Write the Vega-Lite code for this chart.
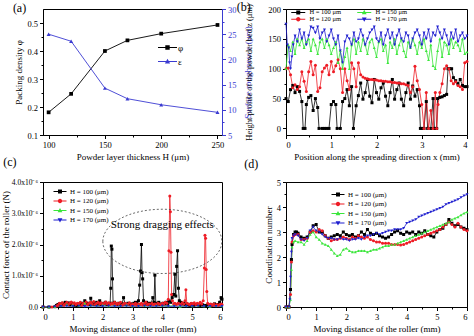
{
"$schema": "https://vega.github.io/schema/vega-lite/v6.json",
"padding": {"left": 0, "top": 0, "right": 0, "bottom": 0},
"background": "white",
"config": {
 "font": "Liberation Serif",
 "view": {"stroke": "#000", "strokeWidth": 1},
 "axis": {"labelFont": "Liberation Serif", "titleFont": "Liberation Serif", "labelFontSize": 8.5, "titleFontSize": 9, "titleFontWeight": "normal", "grid": false, "domainColor": "#000", "tickColor": "#000", "labelColor": "#000", "titleColor": "#000", "tickSize": 3, "labelPadding": 2, "titlePadding": 3},
 "legend": {"labelFont": "Liberation Serif", "labelFontSize": 7, "labelColor": "#000", "padding": 0, "symbolStrokeWidth": 0, "symbolOpacity": 1, "title": null},
 "title": {"font": "Liberation Serif", "fontSize": 12, "fontWeight": "normal", "anchor": "start", "frame": "bounds", "color": "#000"}
},
"datasets": {
 "a": [
  {"t":100,"phi":0.181,"eps":25.0},
  {"t":120,"phi":0.247,"eps":23.6},
  {"t":150,"phi":0.400,"eps":14.3},
  {"t":170,"phi":0.438,"eps":12.2},
  {"t":200,"phi":0.462,"eps":11.0},
  {"t":250,"phi":0.493,"eps":9.5}
 ],
 "b": [
  {"x":0,"y":50,"H":"100"},{"x":0.05,"y":45,"H":"100"},{"x":0.1,"y":65,"H":"100"},{"x":0.15,"y":72,"H":"100"},{"x":0.2,"y":60,"H":"100"},{"x":0.25,"y":70,"H":"100"},{"x":0.3,"y":62,"H":"100"},{"x":0.35,"y":45,"H":"100"},{"x":0.38,"y":0,"H":"100"},{"x":0.42,"y":0,"H":"100"},{"x":0.45,"y":40,"H":"100"},{"x":0.5,"y":52,"H":"100"},{"x":0.55,"y":55,"H":"100"},{"x":0.6,"y":30,"H":"100"},{"x":0.65,"y":50,"H":"100"},{"x":0.7,"y":35,"H":"100"},{"x":0.73,"y":0,"H":"100"},{"x":0.8,"y":0,"H":"100"},{"x":0.85,"y":0,"H":"100"},{"x":0.9,"y":0,"H":"100"},{"x":0.95,"y":0,"H":"100"},{"x":1.0,"y":40,"H":"100"},{"x":1.05,"y":45,"H":"100"},{"x":1.1,"y":40,"H":"100"},{"x":1.13,"y":0,"H":"100"},{"x":1.2,"y":0,"H":"100"},{"x":1.25,"y":45,"H":"100"},{"x":1.3,"y":50,"H":"100"},{"x":1.35,"y":65,"H":"100"},{"x":1.4,"y":38,"H":"100"},{"x":1.45,"y":70,"H":"100"},{"x":1.49,"y":0,"H":"100"},{"x":1.55,"y":38,"H":"100"},{"x":1.6,"y":55,"H":"100"},{"x":1.65,"y":76,"H":"100"},{"x":1.7,"y":49,"H":"100"},{"x":1.75,"y":60,"H":"100"},{"x":1.8,"y":82,"H":"100"},{"x":1.85,"y":54,"H":"100"},{"x":1.9,"y":43,"H":"100"},{"x":1.95,"y":82,"H":"100"},{"x":2.0,"y":60,"H":"100"},{"x":2.05,"y":49,"H":"100"},{"x":2.1,"y":68,"H":"100"},{"x":2.15,"y":76,"H":"100"},{"x":2.2,"y":54,"H":"100"},{"x":2.25,"y":38,"H":"100"},{"x":2.3,"y":60,"H":"100"},{"x":2.35,"y":82,"H":"100"},{"x":2.4,"y":49,"H":"100"},{"x":2.45,"y":65,"H":"100"},{"x":2.5,"y":76,"H":"100"},{"x":2.55,"y":49,"H":"100"},{"x":2.6,"y":38,"H":"100"},{"x":2.65,"y":60,"H":"100"},{"x":2.7,"y":76,"H":"100"},{"x":2.75,"y":49,"H":"100"},{"x":2.8,"y":71,"H":"100"},{"x":2.85,"y":54,"H":"100"},{"x":2.9,"y":65,"H":"100"},{"x":2.95,"y":38,"H":"100"},{"x":2.97,"y":0,"H":"100"},{"x":3.0,"y":0,"H":"100"},{"x":3.05,"y":0,"H":"100"},{"x":3.1,"y":45,"H":"100"},{"x":3.13,"y":0,"H":"100"},{"x":3.2,"y":0,"H":"100"},{"x":3.25,"y":50,"H":"100"},{"x":3.28,"y":0,"H":"100"},{"x":3.33,"y":0,"H":"100"},{"x":3.35,"y":50,"H":"100"},{"x":3.4,"y":52,"H":"100"},{"x":3.45,"y":53,"H":"100"},{"x":3.5,"y":55,"H":"100"},{"x":3.55,"y":57,"H":"100"},{"x":3.58,"y":100,"H":"100"},{"x":3.62,"y":100,"H":"100"},{"x":3.66,"y":100,"H":"100"},{"x":3.7,"y":85,"H":"100"},{"x":3.75,"y":80,"H":"100"},{"x":3.8,"y":75,"H":"100"},{"x":3.85,"y":82,"H":"100"},{"x":3.9,"y":72,"H":"100"},{"x":3.95,"y":70,"H":"100"},{"x":4.0,"y":70,"H":"100"},
  {"x":0,"y":100,"H":"120"},{"x":0.05,"y":101,"H":"120"},{"x":0.1,"y":90,"H":"120"},{"x":0.15,"y":68,"H":"120"},{"x":0.2,"y":73,"H":"120"},{"x":0.25,"y":65,"H":"120"},{"x":0.3,"y":70,"H":"120"},{"x":0.35,"y":95,"H":"120"},{"x":0.4,"y":79,"H":"120"},{"x":0.45,"y":62,"H":"120"},{"x":0.5,"y":95,"H":"120"},{"x":0.55,"y":112,"H":"120"},{"x":0.6,"y":90,"H":"120"},{"x":0.65,"y":106,"H":"120"},{"x":0.7,"y":62,"H":"120"},{"x":0.75,"y":68,"H":"120"},{"x":0.8,"y":95,"H":"120"},{"x":0.85,"y":101,"H":"120"},{"x":0.9,"y":106,"H":"120"},{"x":0.95,"y":90,"H":"120"},{"x":1.0,"y":112,"H":"120"},{"x":1.05,"y":95,"H":"120"},{"x":1.1,"y":105,"H":"120"},{"x":1.15,"y":115,"H":"120"},{"x":1.2,"y":100,"H":"120"},{"x":1.25,"y":60,"H":"120"},{"x":1.3,"y":100,"H":"120"},{"x":1.35,"y":80,"H":"120"},{"x":1.4,"y":65,"H":"120"},{"x":1.45,"y":110,"H":"120"},{"x":1.5,"y":100,"H":"120"},{"x":1.55,"y":70,"H":"120"},{"x":1.6,"y":110,"H":"120"},{"x":1.65,"y":90,"H":"120"},{"x":1.7,"y":86,"H":"120"},{"x":1.75,"y":84,"H":"120"},{"x":1.8,"y":83,"H":"120"},{"x":1.85,"y":82,"H":"120"},{"x":1.9,"y":82,"H":"120"},{"x":1.95,"y":81,"H":"120"},{"x":2.0,"y":81,"H":"120"},{"x":2.05,"y":80,"H":"120"},{"x":2.1,"y":80,"H":"120"},{"x":2.15,"y":79,"H":"120"},{"x":2.2,"y":79,"H":"120"},{"x":2.25,"y":78,"H":"120"},{"x":2.3,"y":78,"H":"120"},{"x":2.35,"y":77,"H":"120"},{"x":2.4,"y":77,"H":"120"},{"x":2.45,"y":76,"H":"120"},{"x":2.5,"y":76,"H":"120"},{"x":2.55,"y":75,"H":"120"},{"x":2.6,"y":75,"H":"120"},{"x":2.65,"y":73,"H":"120"},{"x":2.7,"y":72,"H":"120"},{"x":2.75,"y":60,"H":"120"},{"x":2.8,"y":70,"H":"120"},{"x":2.85,"y":104,"H":"120"},{"x":2.9,"y":80,"H":"120"},{"x":2.95,"y":65,"H":"120"},{"x":3.0,"y":40,"H":"120"},{"x":3.05,"y":0,"H":"120"},{"x":3.1,"y":60,"H":"120"},{"x":3.15,"y":0,"H":"120"},{"x":3.2,"y":30,"H":"120"},{"x":3.25,"y":0,"H":"120"},{"x":3.3,"y":60,"H":"120"},{"x":3.33,"y":0,"H":"120"},{"x":3.36,"y":40,"H":"120"},{"x":3.4,"y":60,"H":"120"},{"x":3.45,"y":75,"H":"120"},{"x":3.5,"y":100,"H":"120"},{"x":3.55,"y":105,"H":"120"},{"x":3.6,"y":100,"H":"120"},{"x":3.65,"y":80,"H":"120"},{"x":3.7,"y":75,"H":"120"},{"x":3.75,"y":78,"H":"120"},{"x":3.8,"y":72,"H":"120"},{"x":3.85,"y":70,"H":"120"},{"x":3.9,"y":65,"H":"120"},{"x":3.95,"y":110,"H":"120"},{"x":4.0,"y":112,"H":"120"},
  {"x":0,"y":100,"H":"150"},{"x":0.05,"y":140,"H":"150"},{"x":0.1,"y":130,"H":"150"},{"x":0.15,"y":145,"H":"150"},{"x":0.2,"y":125,"H":"150"},{"x":0.25,"y":150,"H":"150"},{"x":0.3,"y":140,"H":"150"},{"x":0.35,"y":150,"H":"150"},{"x":0.4,"y":135,"H":"150"},{"x":0.45,"y":145,"H":"150"},{"x":0.5,"y":150,"H":"150"},{"x":0.55,"y":130,"H":"150"},{"x":0.6,"y":150,"H":"150"},{"x":0.65,"y":140,"H":"150"},{"x":0.7,"y":125,"H":"150"},{"x":0.75,"y":145,"H":"150"},{"x":0.8,"y":150,"H":"150"},{"x":0.85,"y":135,"H":"150"},{"x":0.9,"y":150,"H":"150"},{"x":0.95,"y":140,"H":"150"},{"x":1.0,"y":125,"H":"150"},{"x":1.05,"y":135,"H":"150"},{"x":1.1,"y":145,"H":"150"},{"x":1.15,"y":110,"H":"150"},{"x":1.2,"y":130,"H":"150"},{"x":1.25,"y":100,"H":"150"},{"x":1.3,"y":120,"H":"150"},{"x":1.35,"y":135,"H":"150"},{"x":1.4,"y":100,"H":"150"},{"x":1.45,"y":140,"H":"150"},{"x":1.5,"y":150,"H":"150"},{"x":1.55,"y":125,"H":"150"},{"x":1.6,"y":145,"H":"150"},{"x":1.65,"y":130,"H":"150"},{"x":1.7,"y":150,"H":"150"},{"x":1.75,"y":140,"H":"150"},{"x":1.8,"y":125,"H":"150"},{"x":1.85,"y":145,"H":"150"},{"x":1.9,"y":150,"H":"150"},{"x":1.95,"y":135,"H":"150"},{"x":2.0,"y":120,"H":"150"},{"x":2.05,"y":145,"H":"150"},{"x":2.1,"y":150,"H":"150"},{"x":2.15,"y":130,"H":"150"},{"x":2.2,"y":140,"H":"150"},{"x":2.25,"y":110,"H":"150"},{"x":2.3,"y":145,"H":"150"},{"x":2.35,"y":135,"H":"150"},{"x":2.4,"y":150,"H":"150"},{"x":2.45,"y":125,"H":"150"},{"x":2.5,"y":140,"H":"150"},{"x":2.55,"y":150,"H":"150"},{"x":2.6,"y":130,"H":"150"},{"x":2.65,"y":120,"H":"150"},{"x":2.7,"y":145,"H":"150"},{"x":2.75,"y":135,"H":"150"},{"x":2.8,"y":150,"H":"150"},{"x":2.85,"y":140,"H":"150"},{"x":2.9,"y":125,"H":"150"},{"x":2.95,"y":145,"H":"150"},{"x":3.0,"y":135,"H":"150"},{"x":3.05,"y":150,"H":"150"},{"x":3.1,"y":130,"H":"150"},{"x":3.15,"y":115,"H":"150"},{"x":3.2,"y":140,"H":"150"},{"x":3.25,"y":105,"H":"150"},{"x":3.3,"y":100,"H":"150"},{"x":3.35,"y":130,"H":"150"},{"x":3.4,"y":150,"H":"150"},{"x":3.45,"y":120,"H":"150"},{"x":3.5,"y":145,"H":"150"},{"x":3.55,"y":140,"H":"150"},{"x":3.6,"y":125,"H":"150"},{"x":3.65,"y":150,"H":"150"},{"x":3.7,"y":135,"H":"150"},{"x":3.75,"y":145,"H":"150"},{"x":3.8,"y":140,"H":"150"},{"x":3.85,"y":130,"H":"150"},{"x":3.9,"y":150,"H":"150"},{"x":3.95,"y":125,"H":"150"},{"x":4.0,"y":128,"H":"150"},
  {"x":0,"y":175,"H":"170"},{"x":0.03,"y":140,"H":"170"},{"x":0.06,"y":135,"H":"170"},{"x":0.08,"y":110,"H":"170"},{"x":0.1,"y":100,"H":"170"},{"x":0.13,"y":120,"H":"170"},{"x":0.16,"y":140,"H":"170"},{"x":0.2,"y":155,"H":"170"},{"x":0.25,"y":145,"H":"170"},{"x":0.3,"y":165,"H":"170"},{"x":0.35,"y":150,"H":"170"},{"x":0.4,"y":160,"H":"170"},{"x":0.45,"y":140,"H":"170"},{"x":0.5,"y":155,"H":"170"},{"x":0.55,"y":170,"H":"170"},{"x":0.6,"y":168,"H":"170"},{"x":0.65,"y":160,"H":"170"},{"x":0.7,"y":170,"H":"170"},{"x":0.75,"y":150,"H":"170"},{"x":0.8,"y":160,"H":"170"},{"x":0.85,"y":165,"H":"170"},{"x":0.9,"y":145,"H":"170"},{"x":0.95,"y":155,"H":"170"},{"x":1.0,"y":165,"H":"170"},{"x":1.05,"y":150,"H":"170"},{"x":1.1,"y":140,"H":"170"},{"x":1.15,"y":155,"H":"170"},{"x":1.2,"y":130,"H":"170"},{"x":1.25,"y":110,"H":"170"},{"x":1.3,"y":145,"H":"170"},{"x":1.35,"y":155,"H":"170"},{"x":1.4,"y":150,"H":"170"},{"x":1.45,"y":140,"H":"170"},{"x":1.5,"y":160,"H":"170"},{"x":1.55,"y":145,"H":"170"},{"x":1.6,"y":150,"H":"170"},{"x":1.65,"y":165,"H":"170"},{"x":1.7,"y":155,"H":"170"},{"x":1.75,"y":140,"H":"170"},{"x":1.8,"y":150,"H":"170"},{"x":1.85,"y":160,"H":"170"},{"x":1.9,"y":165,"H":"170"},{"x":1.95,"y":170,"H":"170"},{"x":2.0,"y":150,"H":"170"},{"x":2.05,"y":145,"H":"170"},{"x":2.1,"y":160,"H":"170"},{"x":2.15,"y":140,"H":"170"},{"x":2.2,"y":155,"H":"170"},{"x":2.25,"y":165,"H":"170"},{"x":2.3,"y":150,"H":"170"},{"x":2.35,"y":160,"H":"170"},{"x":2.4,"y":140,"H":"170"},{"x":2.45,"y":155,"H":"170"},{"x":2.5,"y":165,"H":"170"},{"x":2.55,"y":150,"H":"170"},{"x":2.6,"y":145,"H":"170"},{"x":2.65,"y":160,"H":"170"},{"x":2.7,"y":155,"H":"170"},{"x":2.75,"y":135,"H":"170"},{"x":2.8,"y":150,"H":"170"},{"x":2.85,"y":160,"H":"170"},{"x":2.9,"y":165,"H":"170"},{"x":2.95,"y":155,"H":"170"},{"x":3.0,"y":140,"H":"170"},{"x":3.05,"y":160,"H":"170"},{"x":3.1,"y":150,"H":"170"},{"x":3.15,"y":165,"H":"170"},{"x":3.2,"y":145,"H":"170"},{"x":3.25,"y":160,"H":"170"},{"x":3.3,"y":155,"H":"170"},{"x":3.35,"y":170,"H":"170"},{"x":3.4,"y":160,"H":"170"},{"x":3.45,"y":150,"H":"170"},{"x":3.5,"y":165,"H":"170"},{"x":3.55,"y":155,"H":"170"},{"x":3.6,"y":140,"H":"170"},{"x":3.65,"y":160,"H":"170"},{"x":3.7,"y":150,"H":"170"},{"x":3.75,"y":165,"H":"170"},{"x":3.8,"y":145,"H":"170"},{"x":3.85,"y":155,"H":"170"},{"x":3.9,"y":160,"H":"170"},{"x":3.95,"y":150,"H":"170"},{"x":4.0,"y":155,"H":"170"}
 ],
 "c": [
  {"x":0,"y":0,"H":"100"},{"x":0.2,"y":0,"H":"100"},{"x":0.4,"y":0.01e-6,"H":"100"},{"x":0.45,"y":0.05e-6,"H":"100"},{"x":0.5,"y":0.08e-6,"H":"100"},{"x":0.55,"y":0.1e-6,"H":"100"},{"x":0.6,"y":0.06e-6,"H":"100"},{"x":0.65,"y":0.12e-6,"H":"100"},{"x":0.7,"y":0.08e-6,"H":"100"},{"x":0.75,"y":0.15e-6,"H":"100"},{"x":0.8,"y":0.1e-6,"H":"100"},{"x":0.85,"y":0.13e-6,"H":"100"},{"x":0.9,"y":0.07e-6,"H":"100"},{"x":0.95,"y":0.12e-6,"H":"100"},{"x":1.0,"y":0.1e-6,"H":"100"},{"x":1.05,"y":0.06e-6,"H":"100"},{"x":1.1,"y":0.08e-6,"H":"100"},{"x":1.15,"y":0.05e-6,"H":"100"},{"x":1.2,"y":0.1e-6,"H":"100"},{"x":1.25,"y":0.07e-6,"H":"100"},{"x":1.3,"y":0.12e-6,"H":"100"},{"x":1.35,"y":0.08e-6,"H":"100"},{"x":1.4,"y":0.2e-6,"H":"100"},{"x":1.45,"y":0.1e-6,"H":"100"},{"x":1.5,"y":0.12e-6,"H":"100"},{"x":1.55,"y":0.08e-6,"H":"100"},{"x":1.6,"y":0.28e-6,"H":"100"},{"x":1.65,"y":0.1e-6,"H":"100"},{"x":1.7,"y":0.12e-6,"H":"100"},{"x":1.75,"y":0.08e-6,"H":"100"},{"x":1.8,"y":0.15e-6,"H":"100"},{"x":1.85,"y":0.1e-6,"H":"100"},{"x":1.9,"y":0.2e-6,"H":"100"},{"x":1.95,"y":0.08e-6,"H":"100"},{"x":2.0,"y":0.1e-6,"H":"100"},{"x":2.05,"y":0.12e-6,"H":"100"},{"x":2.1,"y":0.15e-6,"H":"100"},{"x":2.15,"y":0.08e-6,"H":"100"},{"x":2.2,"y":0.1e-6,"H":"100"},{"x":2.25,"y":0.12e-6,"H":"100"},{"x":2.27,"y":0.6e-6,"H":"100"},{"x":2.29,"y":1.95e-6,"H":"100"},{"x":2.31,"y":1.85e-6,"H":"100"},{"x":2.33,"y":0.9e-6,"H":"100"},{"x":2.35,"y":0.12e-6,"H":"100"},{"x":2.4,"y":0.15e-6,"H":"100"},{"x":2.45,"y":0.08e-6,"H":"100"},{"x":2.5,"y":0.1e-6,"H":"100"},{"x":2.55,"y":0.12e-6,"H":"100"},{"x":2.6,"y":0.08e-6,"H":"100"},{"x":2.65,"y":0.1e-6,"H":"100"},{"x":2.7,"y":0.3e-6,"H":"100"},{"x":2.75,"y":0.1e-6,"H":"100"},{"x":2.8,"y":0.08e-6,"H":"100"},{"x":2.85,"y":0.12e-6,"H":"100"},{"x":2.9,"y":0.1e-6,"H":"100"},{"x":2.95,"y":0.08e-6,"H":"100"},{"x":3.0,"y":0.1e-6,"H":"100"},{"x":3.05,"y":0.12e-6,"H":"100"},{"x":3.1,"y":0.15e-6,"H":"100"},{"x":3.15,"y":0.1e-6,"H":"100"},{"x":3.2,"y":0.2e-6,"H":"100"},{"x":3.24,"y":0.7e-6,"H":"100"},{"x":3.27,"y":1.15e-6,"H":"100"},{"x":3.3,"y":2.0e-6,"H":"100"},{"x":3.32,"y":1.1e-6,"H":"100"},{"x":3.34,"y":0.9e-6,"H":"100"},{"x":3.37,"y":0.2e-6,"H":"100"},{"x":3.42,"y":0.1e-6,"H":"100"},{"x":3.47,"y":0.15e-6,"H":"100"},{"x":3.52,"y":0.08e-6,"H":"100"},{"x":3.57,"y":0.12e-6,"H":"100"},{"x":3.62,"y":0.1e-6,"H":"100"},{"x":3.68,"y":0.3e-6,"H":"100"},{"x":3.72,"y":0.15e-6,"H":"100"},{"x":3.75,"y":1.02e-6,"H":"100"},{"x":3.78,"y":0.12e-6,"H":"100"},{"x":3.83,"y":0.1e-6,"H":"100"},{"x":3.88,"y":0.15e-6,"H":"100"},{"x":3.93,"y":0.08e-6,"H":"100"},{"x":3.98,"y":0.1e-6,"H":"100"},{"x":4.03,"y":0.12e-6,"H":"100"},{"x":4.08,"y":0.1e-6,"H":"100"},{"x":4.13,"y":0.15e-6,"H":"100"},{"x":4.18,"y":0.1e-6,"H":"100"},{"x":4.23,"y":0.2e-6,"H":"100"},{"x":4.28,"y":0.15e-6,"H":"100"},{"x":4.33,"y":0.3e-6,"H":"100"},{"x":4.38,"y":0.4e-6,"H":"100"},{"x":4.42,"y":1.05e-6,"H":"100"},{"x":4.45,"y":0.35e-6,"H":"100"},{"x":4.48,"y":1.3e-6,"H":"100"},{"x":4.51,"y":1.8e-6,"H":"100"},{"x":4.54,"y":0.6e-6,"H":"100"},{"x":4.57,"y":0.2e-6,"H":"100"},{"x":4.62,"y":0.15e-6,"H":"100"},{"x":4.67,"y":0.1e-6,"H":"100"},{"x":4.72,"y":0.12e-6,"H":"100"},{"x":4.77,"y":0.08e-6,"H":"100"},{"x":4.82,"y":0.1e-6,"H":"100"},{"x":4.87,"y":0.08e-6,"H":"100"},{"x":4.92,"y":0.06e-6,"H":"100"},{"x":4.97,"y":0.1e-6,"H":"100"},{"x":5.05,"y":0.06e-6,"H":"100"},{"x":5.15,"y":0.08e-6,"H":"100"},{"x":5.25,"y":0.05e-6,"H":"100"},{"x":5.35,"y":0.07e-6,"H":"100"},{"x":5.45,"y":0.05e-6,"H":"100"},{"x":5.55,"y":0.08e-6,"H":"100"},{"x":5.65,"y":0.06e-6,"H":"100"},{"x":5.75,"y":0.1e-6,"H":"100"},{"x":5.85,"y":0.08e-6,"H":"100"},{"x":5.92,"y":0.15e-6,"H":"100"},{"x":5.97,"y":0.3e-6,"H":"100"},{"x":6.0,"y":0.25e-6,"H":"100"},
  {"x":0,"y":0,"H":"120"},{"x":0.3,"y":0,"H":"120"},{"x":0.45,"y":0.03e-6,"H":"120"},{"x":0.5,"y":0.06e-6,"H":"120"},{"x":0.55,"y":0.12e-6,"H":"120"},{"x":0.6,"y":0.08e-6,"H":"120"},{"x":0.65,"y":0.14e-6,"H":"120"},{"x":0.7,"y":0.06e-6,"H":"120"},{"x":0.75,"y":0.1e-6,"H":"120"},{"x":0.8,"y":0.15e-6,"H":"120"},{"x":0.85,"y":0.08e-6,"H":"120"},{"x":0.9,"y":0.12e-6,"H":"120"},{"x":0.95,"y":0.16e-6,"H":"120"},{"x":1.0,"y":0.1e-6,"H":"120"},{"x":1.05,"y":0.14e-6,"H":"120"},{"x":1.1,"y":0.08e-6,"H":"120"},{"x":1.15,"y":0.12e-6,"H":"120"},{"x":1.2,"y":0.1e-6,"H":"120"},{"x":1.25,"y":0.15e-6,"H":"120"},{"x":1.3,"y":0.06e-6,"H":"120"},{"x":1.35,"y":0.12e-6,"H":"120"},{"x":1.4,"y":0.1e-6,"H":"120"},{"x":1.45,"y":0.16e-6,"H":"120"},{"x":1.5,"y":0.08e-6,"H":"120"},{"x":1.55,"y":0.12e-6,"H":"120"},{"x":1.6,"y":0.15e-6,"H":"120"},{"x":1.65,"y":0.1e-6,"H":"120"},{"x":1.7,"y":0.18e-6,"H":"120"},{"x":1.75,"y":0.08e-6,"H":"120"},{"x":1.8,"y":0.12e-6,"H":"120"},{"x":1.85,"y":0.15e-6,"H":"120"},{"x":1.9,"y":0.1e-6,"H":"120"},{"x":1.95,"y":0.14e-6,"H":"120"},{"x":2.0,"y":0.08e-6,"H":"120"},{"x":2.05,"y":0.12e-6,"H":"120"},{"x":2.1,"y":0.16e-6,"H":"120"},{"x":2.15,"y":0.1e-6,"H":"120"},{"x":2.2,"y":0.14e-6,"H":"120"},{"x":2.25,"y":0.08e-6,"H":"120"},{"x":2.3,"y":0.12e-6,"H":"120"},{"x":2.35,"y":0.1e-6,"H":"120"},{"x":2.4,"y":0.15e-6,"H":"120"},{"x":2.45,"y":0.08e-6,"H":"120"},{"x":2.5,"y":0.12e-6,"H":"120"},{"x":2.55,"y":0.1e-6,"H":"120"},{"x":2.6,"y":0.15e-6,"H":"120"},{"x":2.65,"y":0.06e-6,"H":"120"},{"x":2.7,"y":0.1e-6,"H":"120"},{"x":2.75,"y":0.12e-6,"H":"120"},{"x":2.8,"y":0.08e-6,"H":"120"},{"x":2.85,"y":0.1e-6,"H":"120"},{"x":2.9,"y":0.14e-6,"H":"120"},{"x":2.95,"y":0.06e-6,"H":"120"},{"x":3.0,"y":0.1e-6,"H":"120"},{"x":3.05,"y":0.08e-6,"H":"120"},{"x":3.1,"y":0.12e-6,"H":"120"},{"x":3.15,"y":0.06e-6,"H":"120"},{"x":3.2,"y":0.1e-6,"H":"120"},{"x":3.25,"y":0.08e-6,"H":"120"},{"x":3.3,"y":0.12e-6,"H":"120"},{"x":3.35,"y":0.06e-6,"H":"120"},{"x":3.4,"y":0.1e-6,"H":"120"},{"x":3.45,"y":0.15e-6,"H":"120"},{"x":3.5,"y":0.08e-6,"H":"120"},{"x":3.55,"y":0.1e-6,"H":"120"},{"x":3.6,"y":0.05e-6,"H":"120"},{"x":3.65,"y":0.12e-6,"H":"120"},{"x":3.7,"y":0.08e-6,"H":"120"},{"x":3.75,"y":0.1e-6,"H":"120"},{"x":3.8,"y":0.06e-6,"H":"120"},{"x":3.85,"y":0.12e-6,"H":"120"},{"x":3.9,"y":0.1e-6,"H":"120"},{"x":3.95,"y":0.08e-6,"H":"120"},{"x":4.0,"y":0.12e-6,"H":"120"},{"x":4.05,"y":0.1e-6,"H":"120"},{"x":4.1,"y":0.15e-6,"H":"120"},{"x":4.15,"y":0.12e-6,"H":"120"},{"x":4.2,"y":0.25e-6,"H":"120"},{"x":4.22,"y":1.8e-6,"H":"120"},{"x":4.25,"y":3.55e-6,"H":"120"},{"x":4.27,"y":3.05e-6,"H":"120"},{"x":4.29,"y":1.75e-6,"H":"120"},{"x":4.31,"y":0.4e-6,"H":"120"},{"x":4.34,"y":0.2e-6,"H":"120"},{"x":4.38,"y":0.1e-6,"H":"120"},{"x":4.42,"y":0.12e-6,"H":"120"},{"x":4.47,"y":0.08e-6,"H":"120"},{"x":4.52,"y":0.12e-6,"H":"120"},{"x":4.57,"y":0.1e-6,"H":"120"},{"x":4.62,"y":0.08e-6,"H":"120"},{"x":4.67,"y":0.14e-6,"H":"120"},{"x":4.72,"y":0.1e-6,"H":"120"},{"x":4.76,"y":0.2e-6,"H":"120"},{"x":4.79,"y":0.55e-6,"H":"120"},{"x":4.82,"y":0.12e-6,"H":"120"},{"x":4.87,"y":0.1e-6,"H":"120"},{"x":4.92,"y":0.08e-6,"H":"120"},{"x":4.97,"y":0.12e-6,"H":"120"},{"x":5.02,"y":0.1e-6,"H":"120"},{"x":5.07,"y":0.14e-6,"H":"120"},{"x":5.12,"y":0.08e-6,"H":"120"},{"x":5.17,"y":0.12e-6,"H":"120"},{"x":5.22,"y":0.1e-6,"H":"120"},{"x":5.27,"y":0.15e-6,"H":"120"},{"x":5.32,"y":0.1e-6,"H":"120"},{"x":5.37,"y":0.2e-6,"H":"120"},{"x":5.41,"y":1.25e-6,"H":"120"},{"x":5.43,"y":2.3e-6,"H":"120"},{"x":5.45,"y":2.2e-6,"H":"120"},{"x":5.47,"y":1.2e-6,"H":"120"},{"x":5.49,"y":0.5e-6,"H":"120"},{"x":5.52,"y":0.12e-6,"H":"120"},{"x":5.57,"y":0.08e-6,"H":"120"},{"x":5.62,"y":0.1e-6,"H":"120"},{"x":5.67,"y":0.06e-6,"H":"120"},{"x":5.72,"y":0.1e-6,"H":"120"},{"x":5.77,"y":0.05e-6,"H":"120"},{"x":5.82,"y":0.08e-6,"H":"120"},{"x":5.87,"y":0.06e-6,"H":"120"},{"x":5.92,"y":0.08e-6,"H":"120"},{"x":5.97,"y":0.1e-6,"H":"120"},{"x":6.0,"y":0.08e-6,"H":"120"},
  {"x":0,"y":0,"H":"150"},{"x":0.2,"y":0,"H":"150"},{"x":0.4,"y":0.01e-6,"H":"150"},{"x":0.6,"y":0.05e-6,"H":"150"},{"x":0.8,"y":0.08e-6,"H":"150"},{"x":1.0,"y":0.06e-6,"H":"150"},{"x":1.2,"y":0.05e-6,"H":"150"},{"x":1.4,"y":0.12e-6,"H":"150"},{"x":1.6,"y":0.05e-6,"H":"150"},{"x":1.8,"y":0.04e-6,"H":"150"},{"x":2.0,"y":0.06e-6,"H":"150"},{"x":2.2,"y":0.03e-6,"H":"150"},{"x":2.4,"y":0.05e-6,"H":"150"},{"x":2.6,"y":0.04e-6,"H":"150"},{"x":2.8,"y":0.06e-6,"H":"150"},{"x":3.0,"y":0.03e-6,"H":"150"},{"x":3.2,"y":0.05e-6,"H":"150"},{"x":3.4,"y":0.04e-6,"H":"150"},{"x":3.6,"y":0.03e-6,"H":"150"},{"x":3.8,"y":0.05e-6,"H":"150"},{"x":4.0,"y":0.04e-6,"H":"150"},{"x":4.2,"y":0.03e-6,"H":"150"},{"x":4.4,"y":0.05e-6,"H":"150"},{"x":4.6,"y":0.02e-6,"H":"150"},{"x":4.8,"y":0.04e-6,"H":"150"},{"x":5.0,"y":0.03e-6,"H":"150"},{"x":5.2,"y":0.05e-6,"H":"150"},{"x":5.4,"y":0.03e-6,"H":"150"},{"x":5.6,"y":0.02e-6,"H":"150"},{"x":5.8,"y":0.04e-6,"H":"150"},{"x":6.0,"y":0.03e-6,"H":"150"},
  {"x":0,"y":0,"H":"170"},{"x":0.2,"y":0,"H":"170"},{"x":0.4,"y":0.01e-6,"H":"170"},{"x":0.6,"y":0.02e-6,"H":"170"},{"x":0.8,"y":0.03e-6,"H":"170"},{"x":1.0,"y":0.02e-6,"H":"170"},{"x":1.2,"y":0.03e-6,"H":"170"},{"x":1.4,"y":0.02e-6,"H":"170"},{"x":1.6,"y":0.03e-6,"H":"170"},{"x":1.8,"y":0.02e-6,"H":"170"},{"x":2.0,"y":0.02e-6,"H":"170"},{"x":2.2,"y":0.03e-6,"H":"170"},{"x":2.4,"y":0.02e-6,"H":"170"},{"x":2.6,"y":0.02e-6,"H":"170"},{"x":2.8,"y":0.03e-6,"H":"170"},{"x":3.0,"y":0.02e-6,"H":"170"},{"x":3.2,"y":0.02e-6,"H":"170"},{"x":3.4,"y":0.03e-6,"H":"170"},{"x":3.6,"y":0.02e-6,"H":"170"},{"x":3.8,"y":0.02e-6,"H":"170"},{"x":4.0,"y":0.03e-6,"H":"170"},{"x":4.2,"y":0.02e-6,"H":"170"},{"x":4.4,"y":0.02e-6,"H":"170"},{"x":4.6,"y":0.03e-6,"H":"170"},{"x":4.8,"y":0.02e-6,"H":"170"},{"x":5.0,"y":0.02e-6,"H":"170"},{"x":5.2,"y":0.03e-6,"H":"170"},{"x":5.4,"y":0.02e-6,"H":"170"},{"x":5.6,"y":0.02e-6,"H":"170"},{"x":5.8,"y":0.02e-6,"H":"170"},{"x":6.0,"y":0.02e-6,"H":"170"}
 ],
 "d": [
  {"x":0,"y":0,"H":"100"},{"x":0.05,"y":0,"H":"100"},{"x":0.1,"y":0,"H":"100"},{"x":0.15,"y":0.7,"H":"100"},{"x":0.18,"y":1.9,"H":"100"},{"x":0.2,"y":2.5,"H":"100"},{"x":0.25,"y":2.9,"H":"100"},{"x":0.3,"y":3.0,"H":"100"},{"x":0.35,"y":3.0,"H":"100"},{"x":0.4,"y":2.95,"H":"100"},{"x":0.5,"y":2.8,"H":"100"},{"x":0.6,"y":2.75,"H":"100"},{"x":0.7,"y":2.8,"H":"100"},{"x":0.8,"y":3.0,"H":"100"},{"x":0.9,"y":3.25,"H":"100"},{"x":1.0,"y":3.3,"H":"100"},{"x":1.1,"y":3.0,"H":"100"},{"x":1.2,"y":3.0,"H":"100"},{"x":1.3,"y":2.85,"H":"100"},{"x":1.4,"y":2.75,"H":"100"},{"x":1.5,"y":2.8,"H":"100"},{"x":1.6,"y":2.85,"H":"100"},{"x":1.7,"y":2.9,"H":"100"},{"x":1.8,"y":2.85,"H":"100"},{"x":1.9,"y":3.0,"H":"100"},{"x":2.0,"y":2.9,"H":"100"},{"x":2.1,"y":2.85,"H":"100"},{"x":2.2,"y":2.9,"H":"100"},{"x":2.3,"y":2.8,"H":"100"},{"x":2.4,"y":2.85,"H":"100"},{"x":2.5,"y":3.0,"H":"100"},{"x":2.6,"y":2.9,"H":"100"},{"x":2.7,"y":3.1,"H":"100"},{"x":2.8,"y":2.95,"H":"100"},{"x":2.9,"y":2.9,"H":"100"},{"x":3.0,"y":2.95,"H":"100"},{"x":3.1,"y":2.85,"H":"100"},{"x":3.2,"y":2.8,"H":"100"},{"x":3.3,"y":2.75,"H":"100"},{"x":3.4,"y":2.8,"H":"100"},{"x":3.5,"y":2.9,"H":"100"},{"x":3.6,"y":3.0,"H":"100"},{"x":3.7,"y":3.05,"H":"100"},{"x":3.8,"y":2.95,"H":"100"},{"x":3.9,"y":2.9,"H":"100"},{"x":4.0,"y":3.0,"H":"100"},{"x":4.1,"y":2.95,"H":"100"},{"x":4.2,"y":3.0,"H":"100"},{"x":4.3,"y":2.9,"H":"100"},{"x":4.4,"y":3.0,"H":"100"},{"x":4.5,"y":2.95,"H":"100"},{"x":4.6,"y":3.05,"H":"100"},{"x":4.7,"y":2.9,"H":"100"},{"x":4.8,"y":2.85,"H":"100"},{"x":4.9,"y":2.8,"H":"100"},{"x":5.0,"y":3.0,"H":"100"},{"x":5.1,"y":3.1,"H":"100"},{"x":5.2,"y":3.15,"H":"100"},{"x":5.3,"y":3.3,"H":"100"},{"x":5.4,"y":3.5,"H":"100"},{"x":5.5,"y":3.35,"H":"100"},{"x":5.6,"y":3.25,"H":"100"},{"x":5.7,"y":3.3,"H":"100"},{"x":5.8,"y":3.2,"H":"100"},{"x":5.9,"y":3.15,"H":"100"},{"x":6.0,"y":3.1,"H":"100"},
  {"x":0,"y":0,"H":"120"},{"x":0.1,"y":0,"H":"120"},{"x":0.15,"y":0.5,"H":"120"},{"x":0.18,"y":1.8,"H":"120"},{"x":0.2,"y":2.6,"H":"120"},{"x":0.25,"y":2.85,"H":"120"},{"x":0.3,"y":2.9,"H":"120"},{"x":0.4,"y":2.9,"H":"120"},{"x":0.5,"y":2.7,"H":"120"},{"x":0.6,"y":2.7,"H":"120"},{"x":0.7,"y":2.75,"H":"120"},{"x":0.8,"y":3.0,"H":"120"},{"x":0.9,"y":3.05,"H":"120"},{"x":1.0,"y":3.0,"H":"120"},{"x":1.1,"y":3.1,"H":"120"},{"x":1.2,"y":3.05,"H":"120"},{"x":1.3,"y":2.85,"H":"120"},{"x":1.4,"y":2.75,"H":"120"},{"x":1.5,"y":2.65,"H":"120"},{"x":1.6,"y":2.7,"H":"120"},{"x":1.7,"y":2.7,"H":"120"},{"x":1.8,"y":2.75,"H":"120"},{"x":1.9,"y":2.8,"H":"120"},{"x":2.0,"y":2.75,"H":"120"},{"x":2.1,"y":2.7,"H":"120"},{"x":2.2,"y":2.8,"H":"120"},{"x":2.3,"y":2.75,"H":"120"},{"x":2.4,"y":2.85,"H":"120"},{"x":2.5,"y":2.8,"H":"120"},{"x":2.6,"y":2.75,"H":"120"},{"x":2.7,"y":2.8,"H":"120"},{"x":2.8,"y":2.7,"H":"120"},{"x":2.9,"y":2.65,"H":"120"},{"x":3.0,"y":2.6,"H":"120"},{"x":3.1,"y":2.6,"H":"120"},{"x":3.2,"y":2.55,"H":"120"},{"x":3.3,"y":2.55,"H":"120"},{"x":3.4,"y":2.55,"H":"120"},{"x":3.5,"y":2.5,"H":"120"},{"x":3.6,"y":2.5,"H":"120"},{"x":3.7,"y":2.5,"H":"120"},{"x":3.8,"y":2.48,"H":"120"},{"x":3.9,"y":2.5,"H":"120"},{"x":4.0,"y":2.55,"H":"120"},{"x":4.1,"y":2.6,"H":"120"},{"x":4.2,"y":2.65,"H":"120"},{"x":4.3,"y":2.7,"H":"120"},{"x":4.4,"y":2.75,"H":"120"},{"x":4.5,"y":2.8,"H":"120"},{"x":4.6,"y":2.85,"H":"120"},{"x":4.7,"y":2.9,"H":"120"},{"x":4.8,"y":2.95,"H":"120"},{"x":4.9,"y":3.0,"H":"120"},{"x":5.0,"y":3.05,"H":"120"},{"x":5.1,"y":3.1,"H":"120"},{"x":5.2,"y":3.2,"H":"120"},{"x":5.3,"y":3.3,"H":"120"},{"x":5.4,"y":3.4,"H":"120"},{"x":5.5,"y":3.3,"H":"120"},{"x":5.6,"y":3.2,"H":"120"},{"x":5.7,"y":3.35,"H":"120"},{"x":5.8,"y":3.2,"H":"120"},{"x":5.9,"y":3.1,"H":"120"},{"x":6.0,"y":3.05,"H":"120"},
  {"x":0,"y":0,"H":"150"},{"x":0.1,"y":0,"H":"150"},{"x":0.15,"y":0.3,"H":"150"},{"x":0.18,"y":1.5,"H":"150"},{"x":0.2,"y":2.4,"H":"150"},{"x":0.25,"y":2.6,"H":"150"},{"x":0.3,"y":2.65,"H":"150"},{"x":0.4,"y":2.6,"H":"150"},{"x":0.5,"y":2.6,"H":"150"},{"x":0.6,"y":2.5,"H":"150"},{"x":0.7,"y":2.65,"H":"150"},{"x":0.8,"y":2.9,"H":"150"},{"x":0.9,"y":3.0,"H":"150"},{"x":1.0,"y":2.8,"H":"150"},{"x":1.1,"y":2.7,"H":"150"},{"x":1.2,"y":2.55,"H":"150"},{"x":1.3,"y":2.5,"H":"150"},{"x":1.4,"y":2.45,"H":"150"},{"x":1.5,"y":2.3,"H":"150"},{"x":1.6,"y":2.15,"H":"150"},{"x":1.7,"y":2.05,"H":"150"},{"x":1.8,"y":2.1,"H":"150"},{"x":1.9,"y":2.3,"H":"150"},{"x":2.0,"y":2.35,"H":"150"},{"x":2.1,"y":2.25,"H":"150"},{"x":2.2,"y":2.2,"H":"150"},{"x":2.3,"y":2.2,"H":"150"},{"x":2.4,"y":2.25,"H":"150"},{"x":2.5,"y":2.25,"H":"150"},{"x":2.6,"y":2.25,"H":"150"},{"x":2.7,"y":2.2,"H":"150"},{"x":2.8,"y":2.25,"H":"150"},{"x":2.9,"y":2.3,"H":"150"},{"x":3.0,"y":2.3,"H":"150"},{"x":3.1,"y":2.35,"H":"150"},{"x":3.2,"y":2.4,"H":"150"},{"x":3.3,"y":2.45,"H":"150"},{"x":3.4,"y":2.45,"H":"150"},{"x":3.5,"y":2.5,"H":"150"},{"x":3.6,"y":2.5,"H":"150"},{"x":3.7,"y":2.55,"H":"150"},{"x":3.8,"y":2.6,"H":"150"},{"x":3.9,"y":2.65,"H":"150"},{"x":4.0,"y":2.7,"H":"150"},{"x":4.1,"y":2.75,"H":"150"},{"x":4.2,"y":2.8,"H":"150"},{"x":4.3,"y":2.85,"H":"150"},{"x":4.4,"y":2.9,"H":"150"},{"x":4.5,"y":2.95,"H":"150"},{"x":4.6,"y":3.0,"H":"150"},{"x":4.7,"y":3.05,"H":"150"},{"x":4.8,"y":3.1,"H":"150"},{"x":4.9,"y":3.15,"H":"150"},{"x":5.0,"y":3.2,"H":"150"},{"x":5.1,"y":3.25,"H":"150"},{"x":5.2,"y":3.3,"H":"150"},{"x":5.3,"y":3.35,"H":"150"},{"x":5.4,"y":3.4,"H":"150"},{"x":5.5,"y":3.5,"H":"150"},{"x":5.6,"y":3.55,"H":"150"},{"x":5.7,"y":3.6,"H":"150"},{"x":5.8,"y":3.68,"H":"150"},{"x":5.9,"y":3.75,"H":"150"},{"x":6.0,"y":3.8,"H":"150"},
  {"x":0,"y":0,"H":"170"},{"x":0.1,"y":0,"H":"170"},{"x":0.13,"y":0.3,"H":"170"},{"x":0.15,"y":1.2,"H":"170"},{"x":0.18,"y":2.2,"H":"170"},{"x":0.2,"y":2.75,"H":"170"},{"x":0.25,"y":2.85,"H":"170"},{"x":0.3,"y":2.9,"H":"170"},{"x":0.4,"y":2.85,"H":"170"},{"x":0.5,"y":2.7,"H":"170"},{"x":0.6,"y":2.65,"H":"170"},{"x":0.7,"y":2.75,"H":"170"},{"x":0.8,"y":3.05,"H":"170"},{"x":0.9,"y":3.2,"H":"170"},{"x":1.0,"y":3.05,"H":"170"},{"x":1.1,"y":3.0,"H":"170"},{"x":1.2,"y":2.9,"H":"170"},{"x":1.3,"y":2.8,"H":"170"},{"x":1.4,"y":2.75,"H":"170"},{"x":1.5,"y":2.75,"H":"170"},{"x":1.6,"y":2.7,"H":"170"},{"x":1.7,"y":2.7,"H":"170"},{"x":1.8,"y":2.75,"H":"170"},{"x":1.9,"y":2.7,"H":"170"},{"x":2.0,"y":2.7,"H":"170"},{"x":2.1,"y":2.65,"H":"170"},{"x":2.2,"y":2.7,"H":"170"},{"x":2.3,"y":2.7,"H":"170"},{"x":2.4,"y":2.75,"H":"170"},{"x":2.5,"y":2.7,"H":"170"},{"x":2.6,"y":2.8,"H":"170"},{"x":2.7,"y":2.85,"H":"170"},{"x":2.8,"y":2.85,"H":"170"},{"x":2.9,"y":2.9,"H":"170"},{"x":3.0,"y":2.95,"H":"170"},{"x":3.1,"y":2.9,"H":"170"},{"x":3.2,"y":2.95,"H":"170"},{"x":3.3,"y":3.0,"H":"170"},{"x":3.4,"y":3.05,"H":"170"},{"x":3.5,"y":3.05,"H":"170"},{"x":3.6,"y":3.1,"H":"170"},{"x":3.7,"y":3.1,"H":"170"},{"x":3.8,"y":3.1,"H":"170"},{"x":3.9,"y":3.15,"H":"170"},{"x":4.0,"y":3.35,"H":"170"},{"x":4.1,"y":3.4,"H":"170"},{"x":4.2,"y":3.45,"H":"170"},{"x":4.3,"y":3.5,"H":"170"},{"x":4.4,"y":3.6,"H":"170"},{"x":4.5,"y":3.65,"H":"170"},{"x":4.6,"y":3.7,"H":"170"},{"x":4.7,"y":3.75,"H":"170"},{"x":4.8,"y":3.8,"H":"170"},{"x":4.9,"y":3.85,"H":"170"},{"x":5.0,"y":3.9,"H":"170"},{"x":5.1,"y":3.95,"H":"170"},{"x":5.2,"y":4.0,"H":"170"},{"x":5.3,"y":4.1,"H":"170"},{"x":5.4,"y":4.15,"H":"170"},{"x":5.5,"y":4.2,"H":"170"},{"x":5.6,"y":4.25,"H":"170"},{"x":5.7,"y":4.3,"H":"170"},{"x":5.8,"y":4.38,"H":"170"},{"x":5.9,"y":4.45,"H":"170"},{"x":6.0,"y":4.5,"H":"170"}
 ],
 "cnote": [{"x": 4.0, "y": 2.1e-6, "note": ""}],
 "ctext": [{"x": 4.0, "y": 2.62e-6, "note": "Strong dragging effects"}]
},
"columns": 2,
"spacing": {"row": 47, "column": 64},
"bounds": "flush",
"concat": [
  {
   "width": 179, "height": 126,
   "title": {"text": "(a)", "dx": -2, "offset": -10},
   "data": {"name": "a"},
   "encoding": {"x": {"field": "t", "type": "quantitative", "scale": {"domain": [95, 254], "nice": false, "zero": false}, "axis": {"values": [100, 125, 150, 175, 200, 225, 250], "labelExpr": "datum.value % 50 == 0 ? format(datum.value, 'd') : ''", "tickSize": {"condition": {"test": "datum.value % 50 != 0", "value": 2}, "value": 3.5}, "title": "Powder layer thickness H (μm)"}}},
   "layer": [
    {"mark": {"type": "line", "color": "#000", "strokeWidth": 0.9, "point": {"shape": "square", "filled": true, "size": 14, "color": "#000", "opacity": 1}},
     "encoding": {"y": {"field": "phi", "type": "quantitative", "scale": {"domain": [0.1, 0.55], "nice": false, "zero": false}, "axis": {"values": [0.1, 0.15, 0.2, 0.25, 0.3, 0.35, 0.4, 0.45, 0.5], "labelExpr": "abs(datum.value * 10 - round(datum.value * 10)) > 0.01 ? '' : format(datum.value, '.1f')", "tickSize": {"condition": {"test": "abs(datum.value * 10 - round(datum.value * 10)) > 0.01", "value": 2}, "value": 3.5}, "title": "Packing density φ"}}}},
    {"mark": {"type": "line", "color": "#3b3bd1", "strokeWidth": 0.9, "point": {"shape": "triangle-up", "filled": true, "size": 16, "color": "#3b3bd1", "opacity": 1}},
     "encoding": {"y": {"field": "eps", "type": "quantitative", "scale": {"domain": [5, 30], "nice": false, "zero": false}, "axis": {"orient": "right", "values": [5, 7.5, 10, 12.5, 15, 17.5, 20, 22.5, 25, 27.5, 30], "labelExpr": "datum.value % 5 == 0 ? format(datum.value, 'd') : ''", "tickSize": {"condition": {"test": "datum.value % 5 != 0", "value": 2}, "value": 3.5}, "title": "Surface roughness ε (μm)", "titleAngle": 270, "titleBaseline": "top", "titlePadding": 7, "labelColor": "#3b3bd1", "titleColor": "#3b3bd1", "tickColor": "#3b3bd1", "domainColor": "#3b3bd1"}}}},
    {"transform": [{"filter": "false"}],
     "mark": {"type": "point", "filled": true, "opacity": 1, "strokeWidth": 0},
     "encoding": {
      "fill": {"field": "s", "type": "nominal", "scale": {"domain": ["φ", "ε"], "range": ["#000", "#3b3bd1"]}, "legend": {"orient": "none", "legendX": 120, "legendY": 34, "symbolSize": 16, "labelOffset": 6, "labelFontSize": 9, "rowPadding": 4}},
      "shape": {"field": "s", "type": "nominal", "scale": {"domain": ["φ", "ε"], "range": ["M-4.75,-0.25H4.75V0.25H-4.75ZM-1.1,-1.1H1.1V1.1H-1.1Z", "M-4.75,-0.25H4.75V0.25H-4.75ZM0,-1.4L1.3,1H-1.3Z"]}, "legend": {"orient": "none", "legendX": 120, "legendY": 34, "symbolSize": 16, "labelOffset": 6, "labelFontSize": 9, "rowPadding": 4}}
     }}
   ],
   "resolve": {"scale": {"y": "independent"}}
  },
  {
   "width": 181, "height": 126,
   "title": {"text": "(b)", "dx": -8, "offset": -10},
   "data": {"name": "b"},
   "encoding": {
    "x": {"field": "x", "type": "quantitative", "scale": {"domain": [0, 4], "nice": false}, "axis": {"values": [0, 0.5, 1, 1.5, 2, 2.5, 3, 3.5, 4], "labelExpr": "datum.value % 1 == 0 ? format(datum.value, 'd') : ''", "tickSize": {"condition": {"test": "datum.value % 1 != 0", "value": 2}, "value": 3.5}, "title": "Position along the spreading direction x (mm)"}},
    "y": {"field": "y", "type": "quantitative", "scale": {"domain": [-11, 200], "nice": false, "zero": false}, "axis": {"values": [0, 25, 50, 75, 100, 125, 150, 175, 200], "labelExpr": "datum.value % 50 == 0 ? format(datum.value, 'd') : ''", "tickSize": {"condition": {"test": "datum.value % 50 != 0", "value": 2}, "value": 3.5}, "title": "Height profile of the powder bed z (μm)", "titlePadding": 14, "titleFontSize": 8.5}}
   },
   "layer": [
    {"mark": {"type": "line", "strokeWidth": 0.8},
     "encoding": {"color": {"field": "H", "type": "nominal", "scale": {"domain": ["100", "120", "150", "170"], "range": ["#000000", "#ee1c25", "#3ae63a", "#1f1fcf"]}, "legend": null}}},
    {"mark": {"type": "point", "filled": true, "size": 9, "opacity": 1},
     "encoding": {"color": {"field": "H", "type": "nominal", "scale": {"domain": ["100", "120", "150", "170"], "range": ["#000000", "#ee1c25", "#3ae63a", "#1f1fcf"]}, "legend": null},
      "shape": {"field": "H", "type": "nominal", "scale": {"domain": ["100", "120", "150", "170"], "range": ["square", "circle", "triangle-up", "triangle-down"]}, "legend": null}}},
    {"transform": [{"filter": "false"}],
     "mark": {"type": "point", "filled": true, "opacity": 1, "strokeWidth": 0},
     "encoding": {
      "fill": {"field": "H", "type": "nominal", "scale": {"domain": ["100", "120", "150", "170"], "range": ["#000000", "#ee1c25", "#3ae63a", "#1f1fcf"]}, "legend": {"orient": "none", "legendX": 9, "legendY": 0, "columns": 2, "columnPadding": 15, "rowPadding": 0, "symbolSize": 16, "labelOffset": 8, "labelFontSize": 6.5, "labelExpr": "'H = ' + datum.label + ' μm'"}},
      "shape": {"field": "H", "type": "nominal", "scale": {"domain": ["100", "120", "150", "170"], "range": ["M-3.5,-0.25H3.5V0.25H-3.5ZM-1,-1H1V1H-1Z", "M-3.5,-0.25H3.5V0.25H-3.5ZM-1.1,0A1.1,1.1,0,1,1,1.1,0A1.1,1.1,0,1,1,-1.1,0Z", "M-3.5,-0.25H3.5V0.25H-3.5ZM0,-1.3L1.2,0.9H-1.2Z", "M-3.5,-0.25H3.5V0.25H-3.5ZM0,1.3L-1.2,-0.9H1.2Z"]}, "legend": {"orient": "none", "legendX": 9, "legendY": 0, "columns": 2, "columnPadding": 15, "rowPadding": 0, "symbolSize": 16, "labelOffset": 8, "labelFontSize": 6.5, "labelExpr": "'H = ' + datum.label + ' μm'"}}
     }}
   ],
   "resolve": {"scale": {"shape": "independent", "fill": "independent"}}
  },
  {
   "width": 179, "height": 125,
   "title": {"text": "(c)", "dx": 2, "offset": 9},
   "data": {"name": "c"},
   "encoding": {
    "x": {"field": "x", "type": "quantitative", "scale": {"domain": [0, 6], "nice": false}, "axis": {"values": [0, 0.5, 1, 1.5, 2, 2.5, 3, 3.5, 4, 4.5, 5, 5.5, 6], "labelExpr": "datum.value % 1 == 0 ? format(datum.value, 'd') : ''", "tickSize": {"condition": {"test": "datum.value % 1 != 0", "value": 2}, "value": 3.5}, "title": "Moving distance of the roller (mm)"}},
    "y": {"field": "y", "type": "quantitative", "scale": {"domain": [0, 4e-6], "nice": false}, "axis": {"values": [0, 0.5e-6, 1e-6, 1.5e-6, 2e-6, 2.5e-6, 3e-6, 3.5e-6, 4e-6], "labelFontSize": 7.5, "titlePadding": 1, "tickSize": {"condition": {"test": "abs(datum.value * 1000000 - round(datum.value * 1000000)) > 0.01", "value": 2}, "value": 3.5}, "labelExpr": "abs(datum.value * 1000000 - round(datum.value * 1000000)) > 0.01 ? '' : (datum.value == 0 ? '0.0' : format(datum.value * 1000000, '.1f') + 'x10⁻⁶')", "title": "Contact force of the roller (N)"}}
   },
   "layer": [
    {"mark": {"type": "line", "strokeWidth": 0.8},
     "encoding": {"color": {"field": "H", "type": "nominal", "scale": {"domain": ["100", "120", "150", "170"], "range": ["#000000", "#ee1c25", "#3ae63a", "#1f1fcf"]}, "legend": null}}},
    {"mark": {"type": "point", "filled": true, "size": 9, "opacity": 1},
     "encoding": {"color": {"field": "H", "type": "nominal", "scale": {"domain": ["100", "120", "150", "170"], "range": ["#000000", "#ee1c25", "#3ae63a", "#1f1fcf"]}, "legend": null},
      "shape": {"field": "H", "type": "nominal", "scale": {"domain": ["100", "120", "150", "170"], "range": ["square", "circle", "triangle-up", "triangle-down"]}, "legend": null}}},
    {"transform": [{"filter": "false"}],
     "mark": {"type": "point", "filled": true, "opacity": 1, "strokeWidth": 0},
     "encoding": {
      "fill": {"field": "H", "type": "nominal", "scale": {"domain": ["100", "120", "150", "170"], "range": ["#000000", "#ee1c25", "#3ae63a", "#1f1fcf"]}, "legend": {"orient": "none", "legendX": 13.5, "legendY": 6, "rowPadding": 1.5, "symbolSize": 16, "labelOffset": 6.5, "labelFontSize": 7, "labelExpr": "'H = ' + datum.label + ' (μm)'"}},
      "shape": {"field": "H", "type": "nominal", "scale": {"domain": ["100", "120", "150", "170"], "range": ["M-3.25,-0.25H3.25V0.25H-3.25ZM-1,-1H1V1H-1Z", "M-3.25,-0.25H3.25V0.25H-3.25ZM-1.1,0A1.1,1.1,0,1,1,1.1,0A1.1,1.1,0,1,1,-1.1,0Z", "M-3.25,-0.25H3.25V0.25H-3.25ZM0,-1.3L1.2,0.9H-1.2Z", "M-3.25,-0.25H3.25V0.25H-3.25ZM0,1.3L-1.2,-0.9H1.2Z"]}, "legend": {"orient": "none", "legendX": 13.5, "legendY": 6, "rowPadding": 1.5, "symbolSize": 16, "labelOffset": 6.5, "labelFontSize": 7, "labelExpr": "'H = ' + datum.label + ' (μm)'"}}
     }},
    {"data": {"name": "cnote"},
     "mark": {"type": "point", "shape": "M-1,0A1,0.54,0,1,1,1,0A1,0.54,0,1,1,-1,0Z", "size": 14161, "filled": false, "stroke": "#444", "fill": null, "strokeDash": [2, 2], "strokeWidth": 0.8, "opacity": 1}},
    {"data": {"name": "ctext"},
     "mark": {"type": "text", "fontSize": 11, "font": "Liberation Serif", "color": "#000"},
     "encoding": {"text": {"field": "note"}}}
   ],
   "resolve": {"scale": {"shape": "independent", "fill": "independent"}}
  },
  {
   "width": 181, "height": 125,
   "title": {"text": "(d)", "dx": -20, "offset": 7},
   "data": {"name": "d"},
   "encoding": {
    "x": {"field": "x", "type": "quantitative", "scale": {"domain": [0, 6], "nice": false}, "axis": {"values": [0, 0.5, 1, 1.5, 2, 2.5, 3, 3.5, 4, 4.5, 5, 5.5, 6], "labelExpr": "datum.value % 1 == 0 ? format(datum.value, 'd') : ''", "tickSize": {"condition": {"test": "datum.value % 1 != 0", "value": 2}, "value": 3.5}, "title": "Moving distance of the roller (mm)"}},
    "y": {"field": "y", "type": "quantitative", "scale": {"domain": [0, 5], "nice": false}, "axis": {"values": [0, 0.5, 1, 1.5, 2, 2.5, 3, 3.5, 4, 4.5, 5], "labelExpr": "datum.value % 1 == 0 ? format(datum.value, 'd') : ''", "tickSize": {"condition": {"test": "datum.value % 1 != 0", "value": 2}, "value": 3.5}, "title": "Coordination number"}}
   },
   "layer": [
    {"mark": {"type": "line", "strokeWidth": 0.8},
     "encoding": {"color": {"field": "H", "type": "nominal", "scale": {"domain": ["100", "120", "150", "170"], "range": ["#000000", "#ee1c25", "#3ae63a", "#1f1fcf"]}, "legend": null}}},
    {"mark": {"type": "point", "filled": true, "size": 9, "opacity": 1},
     "encoding": {"color": {"field": "H", "type": "nominal", "scale": {"domain": ["100", "120", "150", "170"], "range": ["#000000", "#ee1c25", "#3ae63a", "#1f1fcf"]}, "legend": null},
      "shape": {"field": "H", "type": "nominal", "scale": {"domain": ["100", "120", "150", "170"], "range": ["square", "circle", "triangle-up", "triangle-down"]}, "legend": null}}},
    {"transform": [{"filter": "false"}],
     "mark": {"type": "point", "filled": true, "opacity": 1, "strokeWidth": 0},
     "encoding": {
      "fill": {"field": "H", "type": "nominal", "scale": {"domain": ["100", "120", "150", "170"], "range": ["#000000", "#ee1c25", "#3ae63a", "#1f1fcf"]}, "legend": {"orient": "none", "legendX": 48.5, "legendY": 9, "rowPadding": 1.5, "symbolSize": 16, "labelOffset": 6.5, "labelFontSize": 7, "labelExpr": "'H = ' + datum.label + ' (μm)'"}},
      "shape": {"field": "H", "type": "nominal", "scale": {"domain": ["100", "120", "150", "170"], "range": ["M-3.25,-0.25H3.25V0.25H-3.25ZM-1,-1H1V1H-1Z", "M-3.25,-0.25H3.25V0.25H-3.25ZM-1.1,0A1.1,1.1,0,1,1,1.1,0A1.1,1.1,0,1,1,-1.1,0Z", "M-3.25,-0.25H3.25V0.25H-3.25ZM0,-1.3L1.2,0.9H-1.2Z", "M-3.25,-0.25H3.25V0.25H-3.25ZM0,1.3L-1.2,-0.9H1.2Z"]}, "legend": {"orient": "none", "legendX": 48.5, "legendY": 9, "rowPadding": 1.5, "symbolSize": 16, "labelOffset": 6.5, "labelFontSize": 7, "labelExpr": "'H = ' + datum.label + ' (μm)'"}}
     }}
   ],
   "resolve": {"scale": {"shape": "independent", "fill": "independent"}}
  }
]
}
